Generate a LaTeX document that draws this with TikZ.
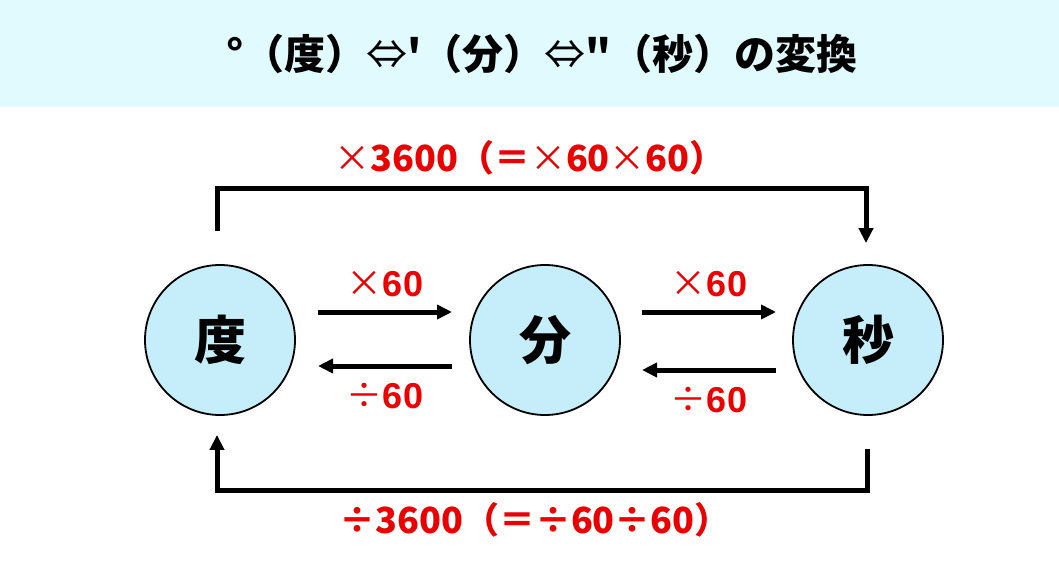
\documentclass[tikz,border=0pt]{standalone}
\usepackage{fontspec}
\usepackage{tikz}
\usetikzlibrary{calc}
\usetikzlibrary{arrows.meta}
\newfontfamily\jpfont{Noto Sans CJK JP}
\newfontfamily\numfont{Liberation Sans}
\definecolor{bandbg}{RGB}{224,250,253}
\definecolor{unitbg}{RGB}{198,238,250}
\definecolor{rate}{RGB}{235,0,0}
\tikzset{
  unit/.style={circle, draw=black, line width=1.8pt, fill=unitbg, minimum size=150pt, inner sep=0pt, font=\jpfont\bfseries\fontsize{52}{52}\selectfont},
  conv/.style={line width=5pt, -{Triangle[length=15pt,width=14pt]}},
  ratelabel/.style={text=rate, inner sep=0pt, font=\numfont\bfseries\fontsize{36}{36}\selectfont},
  longlabel/.style={text=rate, inner sep=0pt, font=\jpfont\bfseries\fontsize{36}{36}\selectfont}
}
\newcommand{\unitnode}[3]{\node[unit] (#1) at (#2) {#3};}
\newcommand{\mul}{{\jpfont\mdseries ×}}
\newcommand{\dvd}{{\jpfont\mdseries ÷}}
\newcommand{\convsign}{{\mdseries ⇔}}
\begin{document}
\begin{tikzpicture}[x=1pt,y=-1pt]
        \useasboundingbox (0,0) rectangle (1059,567);
        % title
        \fill[bandbg] (0,0) rectangle (1059,107);
        \node[font=\jpfont\bfseries\fontsize{41}{41}\selectfont] (title) at (542,54) {°（度）\convsign'（分）\convsign"（秒）の変換};
        % units
        \unitnode{deg}{220,340}{度}
        \unitnode{min}{545,340}{分}
        \unitnode{sec}{868,340}{秒}
        % neighbours
        \draw[conv] ($(deg.center)+(98,-28)$) -- node[ratelabel, above=13pt] {\mul60} ($(min.center)+(-93,-28)$);
        \draw[conv] ($(min.center)+(-93,26)$) -- node[ratelabel, below=15pt] {\dvd60} ($(deg.center)+(98,26)$);
        \draw[conv] ($(min.center)+(97,-28)$) -- node[ratelabel, above=13pt] {\mul60} ($(sec.center)+(-92,-28)$);
        \draw[conv] ($(sec.center)+(-92,30)$) -- node[ratelabel, below=15pt] {\dvd60} ($(min.center)+(97,30)$);
        % degree <-> second
        \draw[conv] ([xshift=-3pt,yshift=33pt]deg.north) -- ++(0,-43) -| ([xshift=-2pt,yshift=21pt]sec.north);
        \draw[conv] ([xshift=-1pt,yshift=-33pt]sec.south) -- ++(0,42) -| ([xshift=-3pt,yshift=-19pt]deg.south);
        \node[longlabel] (up) at (530,158) {\mul3600（＝\mul60\mul60）};
        \node[longlabel] (down) at (535,520) {÷3600（＝÷60÷60）};
\end{tikzpicture}
\end{document}
